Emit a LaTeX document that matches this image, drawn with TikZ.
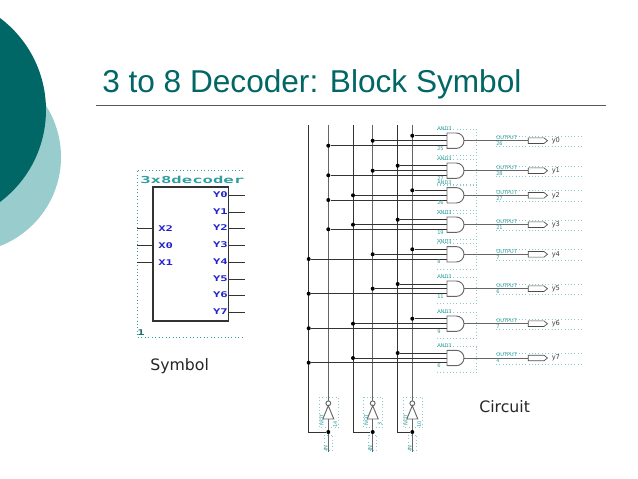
\documentclass[tikz,border=0pt]{standalone}
\usepackage{fontspec}
\setmainfont{Liberation Sans}
\newfontfamily\dv{DejaVu Sans}
\newfontfamily\dvm{DejaVu Sans Mono}
\definecolor{darkteal}{HTML}{006666}
\definecolor{lightteal}{HTML}{99CCCC}
\definecolor{pin}{HTML}{2E9E9E}
\definecolor{blockblue}{HTML}{2222CC}
\definecolor{wire}{HTML}{333333}
\definecolor{gatec}{HTML}{666666}
\tikzset{
  x=0.75pt,y=-0.75pt,
  wireline/.style={draw=wire,line width=0.7pt},
  gateline/.style={draw=gatec,line width=0.7pt},
  dotbox/.style={draw=pin!55,line width=0.45pt,dotted},
  blockdots/.style={draw=pin,line width=0.6pt,dotted},
  tiny/.style={text=pin,font=\dv\fontsize{3.8}{4}\selectfont,inner sep=0pt},
  pinlab/.style={text=blockblue,font=\dvm\bfseries\fontsize{5.9}{7}\selectfont,inner sep=0pt},
  ylab/.style={text=black!75,font=\dv\fontsize{5}{6}\selectfont,inner sep=0pt,anchor=west},
  junct/.style={circle,fill=black,inner sep=0pt,minimum size=3pt},
  big/.style={font=\dv\fontsize{11.8}{13}\selectfont,text=black!85,inner sep=0pt}
}
\newcommand{\widelab}[1]{\scalebox{1.55}[1]{#1}}
\newcommand{\andgate}[8]{%
  \node[junct] (da#1) at (#5,#2) {};
  \node[junct] (db#1) at (#6,#3) {};
  \node[junct] (dc#1) at (#7,#4) {};
  \coordinate (ia#1) at (447,#2);
  \coordinate (ib#1) at (447,#3);
  \coordinate (ic#1) at (447,#4);
  \draw[wireline] (da#1) -- (ia#1);
  \draw[wireline] (db#1) -- (ib#1);
  \draw[wireline] (dc#1) -- (ic#1);
  \draw[dotbox] (437,#3-11.5) -- (476.5,#3-11.5) -- (476.5,#3+14.5) -- (437,#3+14.5);
  \node[tiny,anchor=west] (ta#1) at (437,#3-12.5) {AND3};
  \node[tiny,anchor=west] (tn#1) at (437,#3+7.5) {#1};
  \draw[gateline,fill=white] (447,#3-7.7) -- (456.3,#3-7.7)
     .. controls (460.55,#3-7.7) and (464,#3-4.25) .. (464,#3)
     .. controls (464,#3+4.25) and (460.55,#3+7.7) .. (456.3,#3+7.7)
     -- (447,#3+7.7) -- cycle;
  \coordinate (go#1) at (464,#3);
  \coordinate (pi#1) at (528.3,#3);
  \draw[gateline] (go#1) -- (pi#1);
  \draw[dotbox] (496,#3-4.7) -- (584,#3-4.7) (496,#3+6) -- (584,#3+6);
  \node[tiny,anchor=west] (to#1) at (496,#3-3) {OUTPUT};
  \draw[draw=black!70,line width=0.5pt,fill=white] (528.3,#3-2.8) -- (544,#3-2.8) -- (547.5,#3) -- (544,#3+2.8) -- (528.3,#3+2.8) -- cycle;
  \node[ylab] (y#1) at (551.5,#3) {#8};
}
\newcommand{\notgate}[4]{%
  \coordinate (vt#1) at (#3,125);
  \coordinate (lt#1) at (#2,125);
  \coordinate (lb#1) at (#2,432);
  \node[junct] (nj#1) at (#3,432) {};
  \coordinate (ne#1) at (#3,452);
  \coordinate (nb#1) at (#3,419);
  \draw[dotbox] (#3-9.5,397) rectangle (#3+10,427);
  \draw[dotbox] (#3-4,435) rectangle (#3+4,450);
  \draw[gateline] (vt#1) -- (#3,403);
  \draw[gateline,fill=white] (#3,403.3) circle[radius=2.4];
  \draw[gateline,fill=white] (#3,405.7) -- (#3+5.5,419) -- (#3-5.5,419) -- cycle;
  \draw[gateline] (nb#1) -- (nj#1);
  \draw[gateline] (nj#1) -- (ne#1);
  \draw[wireline] (lt#1) -- (lb#1) -- (nj#1);
  \node[tiny,rotate=90] (tnot#1) at (#3-6.5,420) {NOT};
  \node[tiny,rotate=90] (tnum#1) at (#3+7,424) {#4};
  \node[tiny,rotate=90] (tin#1) at (#3-2.5,448) {IN};
}
\begin{document}
\begin{tikzpicture}
\useasboundingbox (0,0) rectangle (638,478);
\fill[white] (0,0) rectangle (638,478);
\begin{scope}
\clip (0,0) rectangle (638,478);
\fill[lightteal] (-34.4,157) circle[radius=95.4];
\fill[darkteal] (-69,110) circle[radius=115];
\end{scope}
\node[anchor=base west,inner sep=0pt,text=darkteal,font=\fontsize{23.7}{26}\selectfont] (title) at (102,92) {3 to 8 Decoder: Block Symbol};
\coordinate (rl) at (96,105.5);
\coordinate (rr) at (606,105.5);
\draw[draw=black!65,line width=0.75pt] (rl) -- (rr);
% block symbol
\draw[blockdots] (243,170) -- (137,170) -- (137,337) -- (243,337);
\node[anchor=west,inner sep=0pt,text=pin,font=\dvm\bfseries\fontsize{7.2}{9}\selectfont] (bname) at (140,179.5) {\scalebox{1.8}[1]{3x8decoder}};
\node[anchor=west,inner sep=0pt,text=pin!70!black,font=\dvm\bfseries\fontsize{5.9}{6}\selectfont] (bnum) at (137,333) {\widelab{1}};
\node[draw=black!80,line width=0.8pt,minimum width=56.6pt,minimum height=100.5pt,inner sep=0pt] (block) at (190.75,254) {};
\foreach \yy/\lab in {228.5/X2,245.5/X0,262/X1}{
  \coordinate (pl) at (137,\yy);
  \draw[draw=black!80,line width=0.6pt] (pl) -- (pl -| block.west);
  \node[pinlab,anchor=west] at (158,\yy+0.5) {\widelab{\lab}};
}
\foreach \yy/\lab in {195.5/Y0,212/Y1,228.5/Y2,245.5/Y3,262/Y4,279/Y5,295.5/Y6,312/Y7}{
  \coordinate (pr) at (244.5,\yy);
  \draw[draw=black!80,line width=0.6pt] (pr -| block.east) -- (pr);
  \node[pinlab,anchor=east] at (228,\yy-0.5) {\widelab{\lab}};
}
\node[big,anchor=base west] (sym) at (150,370) {Symbol};
\node[big,anchor=base west] (cir) at (479,412) {Circuit};
% inverters and vertical rails
\notgate{14}{308.7}{328.3}{14}
\notgate{3}{353}{372.7}{3}
\notgate{10}{397.7}{412.3}{10}
% AND gates
\andgate{25}{135.7}{140.7}{145.7}{412.3}{372.7}{328.3}{y0}
\andgate{27}{165.7}{170.7}{175.3}{397.7}{372.7}{328.3}{y1}
\andgate{26}{190.3}{195.3}{200}{412.3}{353}{328.3}{y2}
\andgate{19}{219.7}{224.7}{229.3}{397.7}{353}{328.3}{y3}
\andgate{8}{249.3}{254.3}{259}{412.3}{372.7}{308.7}{y4}
\andgate{11}{284}{288.7}{293.7}{397.7}{372.7}{308.7}{y5}
\andgate{9}{318.7}{323.7}{328.3}{412.3}{353}{308.7}{y6}
\andgate{6}{353}{358}{362.7}{397.7}{353}{308.7}{y7}
\foreach \ym/\nn in {140.7/26,170.7/28,195.3/27,224.7/21,254.3/7,288.7/6,323.7/7,358/4}{
  \node[tiny,anchor=west] at (496,\ym+2.9) {\nn};
}
\end{tikzpicture}
\end{document}
